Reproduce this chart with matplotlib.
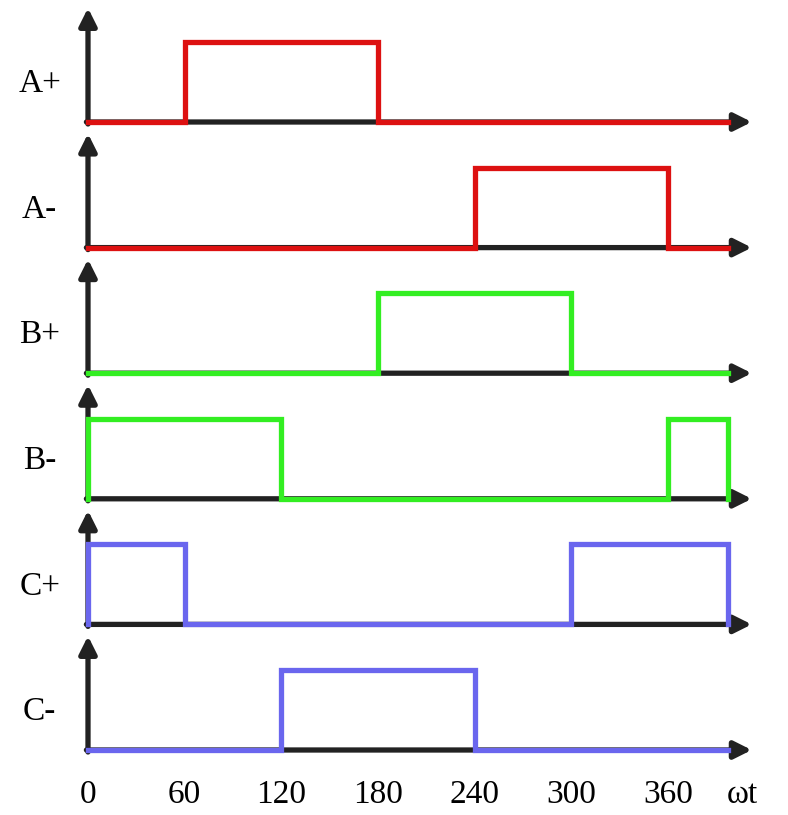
import matplotlib
matplotlib.use("Agg")
import matplotlib.pyplot as plt

labels = ["A+", "A-", "B+", "B-", "C+", "C-"]
colors = ["#dd1111", "#dd1111", "#33ee22", "#33ee22", "#6a66ee", "#6a66ee"]
# on-intervals in degrees for each signal
on_intervals = [
    [(60, 180)],
    [(240, 360)],
    [(180, 300)],
    [(0, 120), (360, 397)],
    [(0, 60), (300, 397)],
    [(120, 240)],
]
tick_values = [0, 60, 120, 180, 240, 300, 360]
end_deg = 397

fig = plt.figure(figsize=(7.88, 8.15), dpi=100)
ax = fig.add_axes([0, 0, 1, 1])
px = 1.611  # pixels per degree
ax.set_xlim(-88 / px, (788 - 88) / px)
ax.set_ylim(815, 0)
ax.axis("off")

row_gap = 125.6
base0 = 122
pulse_h = 80
lw = 3.8
dark = "#222222"
serif = ["Liberation Serif", "DejaVu Serif"]

for i, lab in enumerate(labels):
    yb = base0 + i * row_gap
    yt = yb - pulse_h
    arrow = dict(arrowstyle="-|>", mutation_scale=26, lw=lw, color=dark,
                 shrinkA=0, shrinkB=0)
    ax.annotate("", xy=(0, yb - 114), xytext=(0, yb + 2), arrowprops=arrow)
    ax.annotate("", xy=(412, yb), xytext=(-1, yb), arrowprops=arrow)

    xs, ys = [0], [yb]
    for a, b in on_intervals[i]:
        xs += [a, a, b, b]
        ys += [yb, yt, yt, yb]
    if xs[-1] < end_deg:
        xs.append(end_deg)
        ys.append(yb)
    ax.plot(xs, ys, color=colors[i], lw=lw, solid_joinstyle="miter", zorder=3)
    ax.text(-30, yb - 38, lab, fontsize=24, family=serif, ha="center", va="center")

for t in tick_values:
    ax.text(t, 795, str(t), fontsize=24, family=serif, ha="center", va="center")
ax.text(406, 795, "ωt", fontsize=24, family=serif, ha="center", va="center")

fig.savefig("out.png", dpi=100)
